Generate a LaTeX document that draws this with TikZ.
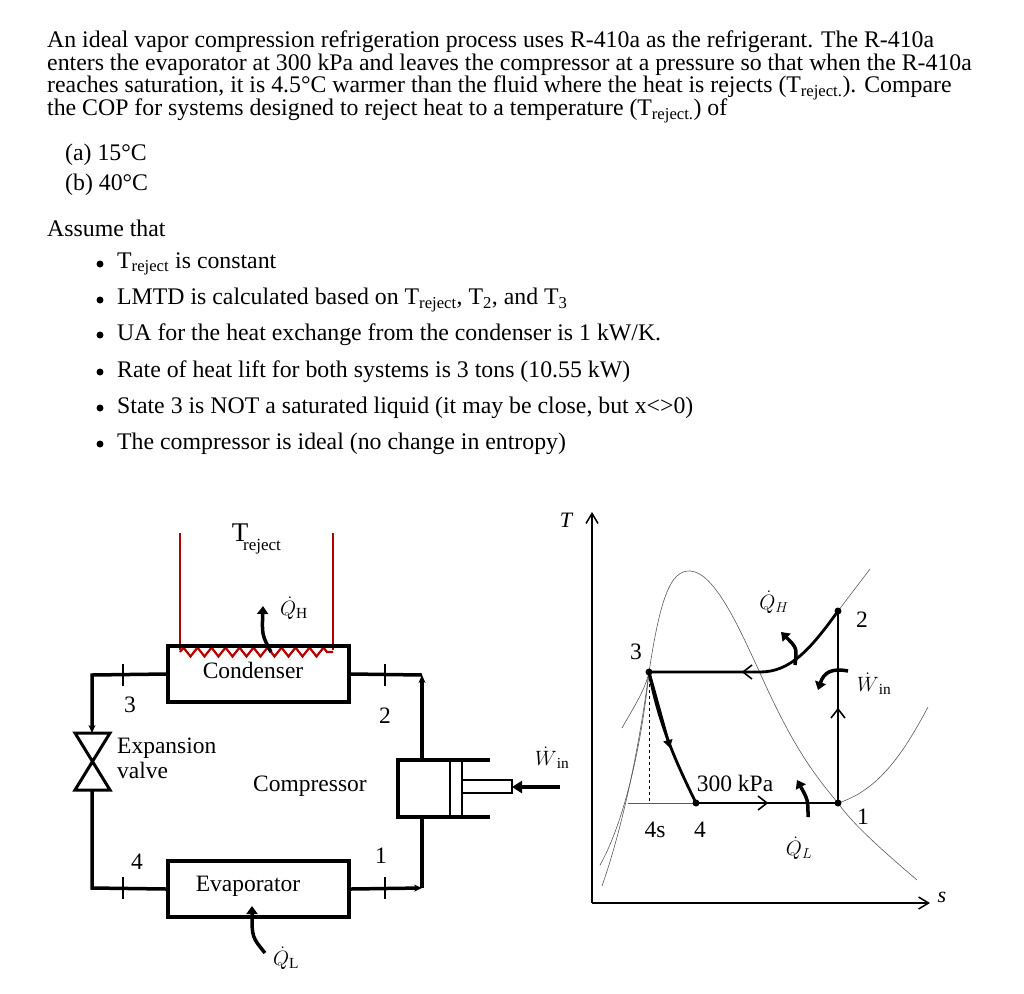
\documentclass[tikz,border=0pt]{standalone}
\usepackage{fontspec}
\setmainfont{Liberation Serif}
\usetikzlibrary{arrows.meta,decorations.pathmorphing}
\begin{document}
\begin{tikzpicture}[x=1pt,y=-1pt,
  txt/.style={anchor=west,inner sep=0pt,font=\fontsize{23.8}{23}\selectfont},
  lab/.style={inner sep=0pt,font=\fontsize{23.5}{25}\selectfont},
  pipe/.style={line width=3.5pt},
  thin/.style={line width=0.6pt,gray!70!black},
  cyc/.style={line width=2.8pt},
  harr/.style={line width=3.5pt,-{Triangle[length=8pt,width=11pt]}}]
\useasboundingbox (0,0) rectangle (1024,993);
% text
\node[txt] (l1) at (47,42) {An ideal vapor compression refrigeration process uses R-410a as the refrigerant. The R-410a};
\node[txt] (l2) at (47,65) {enters the evaporator at 300 kPa and leaves the compressor at a pressure so that when the R-410a};
\node[txt] (l3) at (47,88) {reaches saturation, it is 4.5°C warmer than the fluid where the heat is rejects (T\textsubscript{reject.}). Compare};
\node[txt] (l4) at (47,111) {the COP for systems designed to reject heat to a temperature (T\textsubscript{reject.}) of};
\node[txt] (a) at (65,155) {(a) 15°C};
\node[txt] (b) at (65,185) {(b) 40°C};
\node[txt] (as) at (47,228) {Assume that};
\foreach \y/\t [count=\i] in {264/{T\textsubscript{reject} is constant},300/{LMTD is calculated based on T\textsubscript{reject}, T\textsubscript{2}, and T\textsubscript{3}},335/{UA for the heat exchange from the condenser is 1 kW/K.},372/{Rate of heat lift for both systems is 3 tons (10.55 kW)},408/{State 3 is NOT a saturated liquid (it may be close, but x<>0)},444/{The compressor is ideal (no change in entropy)}}{
  \fill (100,\y) circle (3.5pt);
  \node[txt] (bul\i) at (117,\y) {\t};
}
% ---- left schematic
\draw[red!70!black,line width=2.5pt] (180,533) -- (180,650);
\draw[red!70!black,line width=2.5pt] (333,533) -- (333,650);
\draw[red!70!black,line width=2.2pt,decorate,decoration={zigzag,segment length=14pt,amplitude=4.5pt}] (180,652) -- (333,652);
\node[draw,line width=3.5pt,minimum width=181pt,minimum height=56pt,inner sep=0pt] (cond) at (258.5,674) {};
\node[lab] at (253,670) {Condenser};
\node[draw,line width=3.5pt,minimum width=181pt,minimum height=56pt,inner sep=0pt] (evap) at (258.5,889) {};
\node[lab] at (248,886) {Evaporator};
\coordinate (c3) at (92,675); \coordinate (c2) at (422,675);
\coordinate (c4) at (92,888); \coordinate (c1) at (422,888);
\coordinate (vt) at (92,733); \coordinate (vb) at (92,790);
\draw[line width=3pt] (75,733) -- (110,733) -- (75,790) -- (110,790) -- cycle;
\draw[pipe,-{Stealth[length=8pt,width=7pt]}] (cond.west) -- (c3) -- (vt);
\draw[pipe] (vb) -- (c4) -- (evap.west);
\draw[pipe,-{Stealth[length=8pt,width=7pt]}] (evap.east) -- (c1);
\draw[pipe] (c1) -- (422,817);
\draw[pipe,-{Stealth[length=8pt,width=7pt]}] (422,760) -- (c2);
\draw[pipe] (c2) -- (cond.east);
\foreach \x/\yy in {123/675,385/675,123/888,385/888} \draw[line width=1.5pt] (\x,\yy-11) -- (\x,\yy+11);
% compressor
\draw[line width=3.5pt] (490,760) -- (398,760) -- (398,817) -- (490,817);
\draw[line width=2pt] (450,760) rectangle (462,817);
\draw[line width=2pt] (462,780) rectangle (512,793);
\coordinate (wtail) at (560,787);
\draw[line width=3.5pt,-{Triangle[length=10pt,width=12pt]}] (wtail) -- (512,787);
\node[lab] at (130,705) {3};
\node[lab] at (385,716) {2};
\node[lab] at (137,862) {4};
\node[lab] at (381,856) {1};
\node[lab,anchor=west,align=left] at (117,758) {Expansion\\valve};
\node[lab] at (310,786) {Compressor};
\node[lab,font=\fontsize{27}{27}\selectfont] at (240,533) {T};
\node[inner sep=0pt,font=\fontsize{17}{17}\selectfont] at (262,547) {reject};
\node[lab,font=\fontsize{22}{22}\selectfont] at (294,608) {$\dot{Q}$\textsubscript{H}};
\draw[harr] (271,652) .. controls (262,635) .. (263,606);
\node[lab,font=\fontsize{22}{22}\selectfont] at (286,958) {$\dot{Q}$\textsubscript{L}};
\draw[harr] (265,953) .. controls (252,937) .. (252,906);
\node[lab,font=\fontsize{22}{22}\selectfont] at (552,758) {$\dot{W}$\textsubscript{in}};
% ---- T-s
\draw[line width=1.5pt,-{Straight Barb[length=10pt,width=12pt]}] (592,903) -- (592,512);
\draw[line width=1.5pt,-{Straight Barb[length=10pt,width=12pt]}] (592,903) -- (930,903);
\node[lab,font=\fontsize{22}{23}\selectfont\itshape] at (566,520) {T};
\node[lab,font=\fontsize{22}{23}\selectfont\itshape] at (942,897) {s};
\coordinate (p3) at (649,672); \coordinate (p2) at (838,611);
\coordinate (p1) at (838,803); \coordinate (p4) at (696,803);
\coordinate (p4s) at (649,803); \coordinate (pa) at (760,672);
\draw[thin] (602,886) .. controls (625,820) and (640,740) .. (p3) .. controls (660,600) and (670,570) .. (690,571) .. controls (715,572) and (740,630) .. (760,673) .. controls (790,740) and (810,770) .. (p1) .. controls (850,820) and (870,840) .. (917,880);
\draw[thin] (622,728) .. controls (635,705) and (645,690) .. (p3) .. controls (640,760) and (620,830) .. (600,865);
\draw[thin] (p2) -- (870,569);
\draw[thin] (p1) .. controls (880,790) and (905,750) .. (928,707);
\draw[thin] (628,803) -- (p4);
\draw[thin,dashed,black] (p3) -- (p4s);
\draw[cyc] (p2) .. controls (810,650) and (790,672) .. (pa) -- (p3);
\draw[line width=1.6pt] (752,665) -- (743,672) -- (752,679);
\draw[cyc] (p2) -- (p1);
\draw[line width=1.6pt] (831,718) -- (838,709) -- (845,718);
\draw[cyc] (p4) -- (p1);
\draw[line width=1.6pt] (758,796) -- (767,803) -- (758,810);
\draw[cyc] (p3) .. controls (660,730) and (680,770) .. (p4);
\draw[line width=2.8pt,-{Triangle[length=8pt,width=9pt]}] (p3) -- (670,748);
\foreach \p in {p1,p2,p3,p4} \fill (\p) circle (3.5pt);
\node[lab] at (636,652) {3};
\node[lab] at (862,620) {2};
\node[lab] at (863,817) {1};
\node[lab] at (655,830) {4s};
\node[lab] at (700,830) {4};
\node[lab] at (735,783) {300 kPa};
\node[lab,font=\fontsize{22}{22}\selectfont] at (774,602) {$\dot{Q}_H$};
\node[lab,font=\fontsize{22}{22}\selectfont] at (874,684) {$\dot{W}$\textsubscript{in}};
\node[lab,font=\fontsize{22}{22}\selectfont] at (799,848) {$\dot{Q}_L$};
\draw[harr] (795,665) .. controls (797,648) .. (781,632);
\draw[harr] (848,671) .. controls (832,668) and (824,672) .. (818,690);
\draw[harr] (808,817) .. controls (808,800) .. (797,780);
\end{tikzpicture}
\end{document}
